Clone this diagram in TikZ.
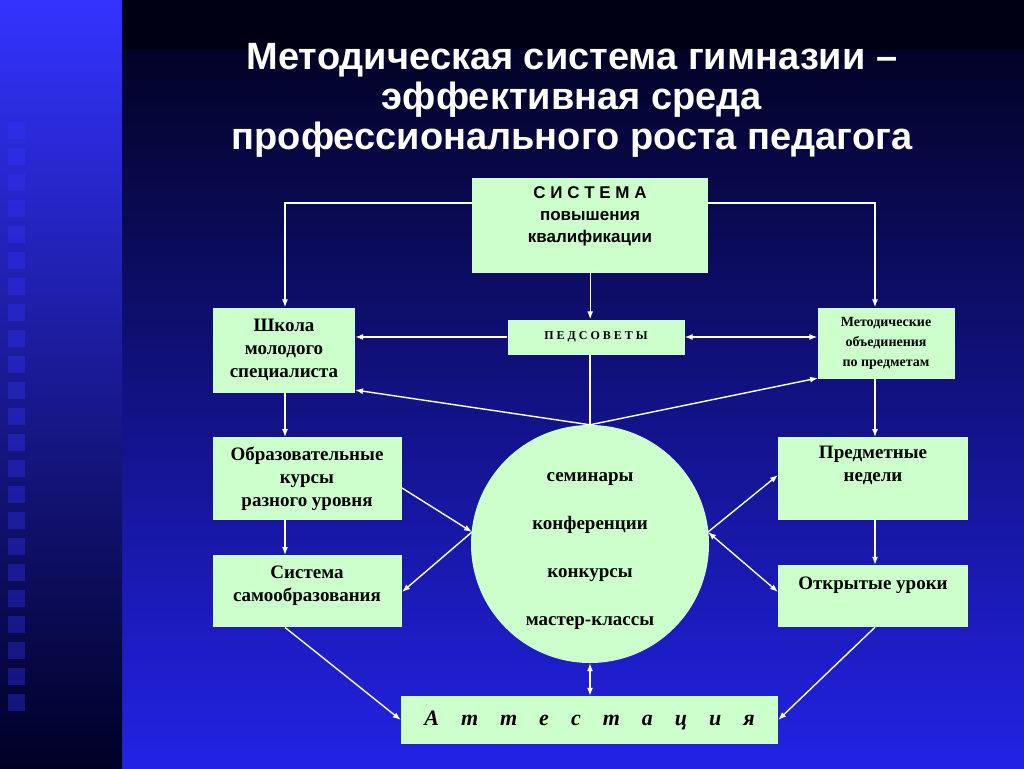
\documentclass[tikz,border=0pt]{standalone}
\usepackage{fontspec}
\usetikzlibrary{arrows.meta}
\setmainfont{Liberation Serif}
\newfontfamily\hsans{Liberation Sans}
\definecolor{boxg}{HTML}{CCFFCC}
\begin{document}
\begin{tikzpicture}[x=1pt,y=-1pt,
  box/.style={draw=none,fill=boxg,font=\bfseries\fontsize{19}{23}\selectfont,align=center,inner sep=0pt},
  lbl/.style={font=\bfseries\fontsize{19}{23}\selectfont,align=center,anchor=north},
  ar/.style={draw=white,line width=1.4pt,-{Latex[length=8pt,width=6pt]}},
  dar/.style={draw=white,line width=1.4pt,{Latex[length=8pt,width=6pt]}-{Latex[length=8pt,width=6pt]}}]
\useasboundingbox (0,0) rectangle (1024,768);
\shade[top color=black!90!blue,bottom color=blue!85!white!90!black] (122,0) rectangle (1024,768);
\fill[black!92!blue] (122,0) rectangle (1024,50);
\shade[top color=blue!80!white,middle color=blue!70!black,bottom color=black!85!blue] (0,0) rectangle (122,768);
\foreach \i in {0,...,22} \fill[blue!80!white,opacity=0.35] (8,{122+26*\i}) rectangle (25,{139+26*\i});
\node[text=white,font=\hsans\bfseries\fontsize{38}{40}\selectfont,align=center] (title) at (572,100) {Методическая система гимназии –\\эффективная среда\\профессионального роста педагога};
\node[box,minimum width=236,minimum height=95,anchor=north west] (sys) at (472,178) {};
\node[font=\hsans\bfseries\fontsize{17}{22}\selectfont,align=center,anchor=north] (syst) at (590,183) {С И С Т Е М А\\повышения\\квалификации};
\node[box,minimum width=142,minimum height=85] (shk) at (284,350) {Школа\\молодого\\специалиста};
\node[box,minimum width=177,minimum height=35,font=\bfseries\fontsize{12}{14}\selectfont] (ped) at (596,337) {П Е Д С О В Е Т Ы};
\node[box,minimum width=137,minimum height=71,font=\bfseries\fontsize{14}{20}\selectfont] (met) at (886,343) {Методические\\объединения\\по предметам};
\node[box,minimum width=189,minimum height=83,anchor=north] (obr) at (307,437) {};
\node[lbl] (obrt) at (307,443) {Образовательные\\курсы\\разного уровня};
\node[box,minimum width=189,minimum height=72,anchor=north] (sam) at (307,555) {};
\node[lbl] (samt) at (307,562) {Система\\самообразования};
\node[box,minimum width=190,minimum height=83,anchor=north] (prd) at (873,437) {};
\node[lbl] (prdt) at (873,443) {Предметные\\недели};
\node[box,minimum width=190,minimum height=62] (otk) at (873,596) {};
\node[lbl] (otkt) at (873,573) {Открытые уроки};
\node[box,circle,minimum size=238] (cir) at (590,544) {};
\node[font=\bfseries\fontsize{19}{48}\selectfont,align=center] (ctext) at (590,551) {семинары\\конференции\\конкурсы\\мастер-классы};
\node[box,minimum width=377,minimum height=48,font=\bfseries\itshape\fontsize{22}{24}\selectfont] (att) at (589.5,720) {А\quad т\quad т\quad е\quad с\quad т\quad а\quad ц\quad и\quad я};
\coordinate (lx) at (285,0);
\coordinate (rx) at (875,0);
\draw[ar] (sys.west|-0,203) -| (lx|-shk.north);
\draw[ar] (sys.east|-0,203) -| (rx|-met.north);
\draw[ar] (sys.south) -- (sys.south|-ped.north);
\draw[ar] (ped.west) -- (shk.east|-ped.west);
\draw[dar] (ped.east) -- (met.west|-ped.east);
\draw[white,line width=1.4pt] (cir.north|-ped.south) -- (cir.north);
\draw[ar] (cir.north) -- (355,390);
\draw[ar] (cir.north) -- (818,378);
\draw[ar] (lx|-shk.south) -- (lx|-obr.north);
\draw[ar] (lx|-obr.south) -- (lx|-sam.north);
\draw[ar] (rx|-met.south) -- (rx|-prd.north);
\draw[ar] (rx|-prd.south) -- (rx|-otk.north);
\draw[ar] (402,488) -- (472,532);
\draw[ar] (472,532) -- (402,592);
\draw[ar] (708,532) -- (778,475);
\draw[dar] (708,532) -- (778,592);
\draw[dar] (cir.south) -- (cir.south|-att.north);
\draw[ar] (lx|-sam.south) -- (att.west);
\draw[ar] (rx|-otk.south) -- (att.east);
\end{tikzpicture}
\end{document}
